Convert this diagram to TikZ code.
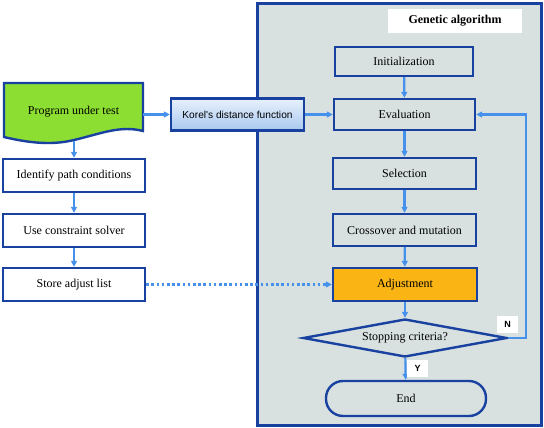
\documentclass[tikz,border=0pt]{standalone}
\usepackage{fontspec}
\setmainfont{Liberation Serif}
\newfontfamily\sansf{Liberation Sans}
\usetikzlibrary{arrows.meta,shapes.geometric}
\definecolor{boxedge}{RGB}{25,65,160}
\definecolor{arrowc}{RGB}{70,145,235}
\definecolor{panel}{RGB}{216,224,224}
\definecolor{greenf}{RGB}{140,222,50}
\definecolor{orangef}{RGB}{250,180,20}
\definecolor{korelA}{RGB}{232,241,252}
\definecolor{korelB}{RGB}{168,200,240}
\begin{document}
\begin{tikzpicture}[x=1pt,y=-1pt,
  every node/.style={font=\fontsize{12}{14}\selectfont},
  stepbox/.style={draw=boxedge,line width=2.4pt,fill=white,minimum width=142pt,minimum height=33pt,inner sep=0pt},
  gabox/.style={stepbox,minimum width=140pt,minimum height=30pt,fill=panel},
  conn/.style={draw=arrowc,line width=2.2pt,-{Triangle[length=6pt,width=6pt]}},
  tag/.style={fill=white,font=\sansf\bfseries\fontsize{9}{10}\selectfont,minimum width=21pt,minimum height=17pt,inner sep=0pt}]
\useasboundingbox (0,0) rectangle (544,428);
% panel
\node[draw=boxedge,line width=2.4pt,fill=panel,minimum width=284pt,minimum height=422pt,inner sep=0pt] (panel) at (399.5,214.5) {};
\node[fill=white,minimum width=134pt,minimum height=24pt,font=\bfseries\fontsize{12}{14}\selectfont] (title) at (455,21) {Genetic algorithm};
% GA boxes
\node[gabox,minimum width=138pt,minimum height=29pt] (init) at (404,61.5) {Initialization};
\node[gabox,minimum width=141pt,minimum height=31pt] (eval) at (404.5,114.5) {Evaluation};
\node[gabox,minimum width=143pt,minimum height=31pt] (sel) at (404.5,173.5) {Selection};
\node[gabox,minimum width=143pt,minimum height=32pt] (cross) at (404.5,230) {Crossover and mutation};
\node[gabox,fill=orangef,minimum width=144pt,minimum height=33pt] (adj) at (405,284.5) {Adjustment};
\node[diamond,draw=boxedge,line width=2.4pt,fill=panel,minimum width=204pt,minimum height=38pt,aspect=5.4,inner sep=0pt] (stop) at (405,338) {Stopping criteria?};
\node[draw=boxedge,line width=2.4pt,fill=panel,minimum width=160pt,minimum height=35pt,rounded corners=17pt,inner sep=0pt] (end) at (406,398.5) {End};
% left column
\path[draw=boxedge,line width=2.4pt,fill=greenf] (4,83) -- (143,83) -- (143,131)
  .. controls (120,125) and (100,134) .. (74,140)
  .. controls (50,146) and (25,142) .. (4,137) -- cycle;
\node (prog) at (73.5,112) {Program under test};
\node[draw=boxedge,line width=2.4pt,top color=korelA,bottom color=korelB,minimum width=133pt,minimum height=32pt,inner sep=0pt,font=\sansf\fontsize{10.2}{12}\selectfont] (korel) at (237.5,114.5) {Korel's distance function};
\node[stepbox] (ident) at (74,175.5) {Identify path conditions};
\node[stepbox] (solver) at (74,230.5) {Use constraint solver};
\node[stepbox] (store) at (74,284.5) {Store adjust list};
\coordinate (progbot) at (74,141);
\coordinate (progright) at (143,114.5);
% connectors
\draw[conn] (progright) -- (korel.west);
\draw[conn] (korel.east) -- (eval.west);
\draw[conn] (progbot) -- (ident.north);
\draw[conn] (ident) -- (solver);
\draw[conn] (solver) -- (store);
\draw[conn,dash pattern=on 2.6pt off 2.6pt] (store.east) -- (adj.west);
\draw[conn] (init) -- (eval);
\draw[conn] (eval) -- (sel);
\draw[conn] (sel) -- (cross);
\draw[conn] (cross) -- (adj);
\draw[conn] (adj) -- (stop);
\draw[conn] (stop) -- (end);
\coordinate (loopx) at (526,0);
\draw[conn] (stop.east) -- (stop.east -| loopx) -- (eval.east -| loopx) -- (eval.east);
\node[tag] (ntag) at (507.5,324.5) {N};
\node[tag] (ytag) at (417.5,368) {Y};
\end{tikzpicture}
\end{document}
